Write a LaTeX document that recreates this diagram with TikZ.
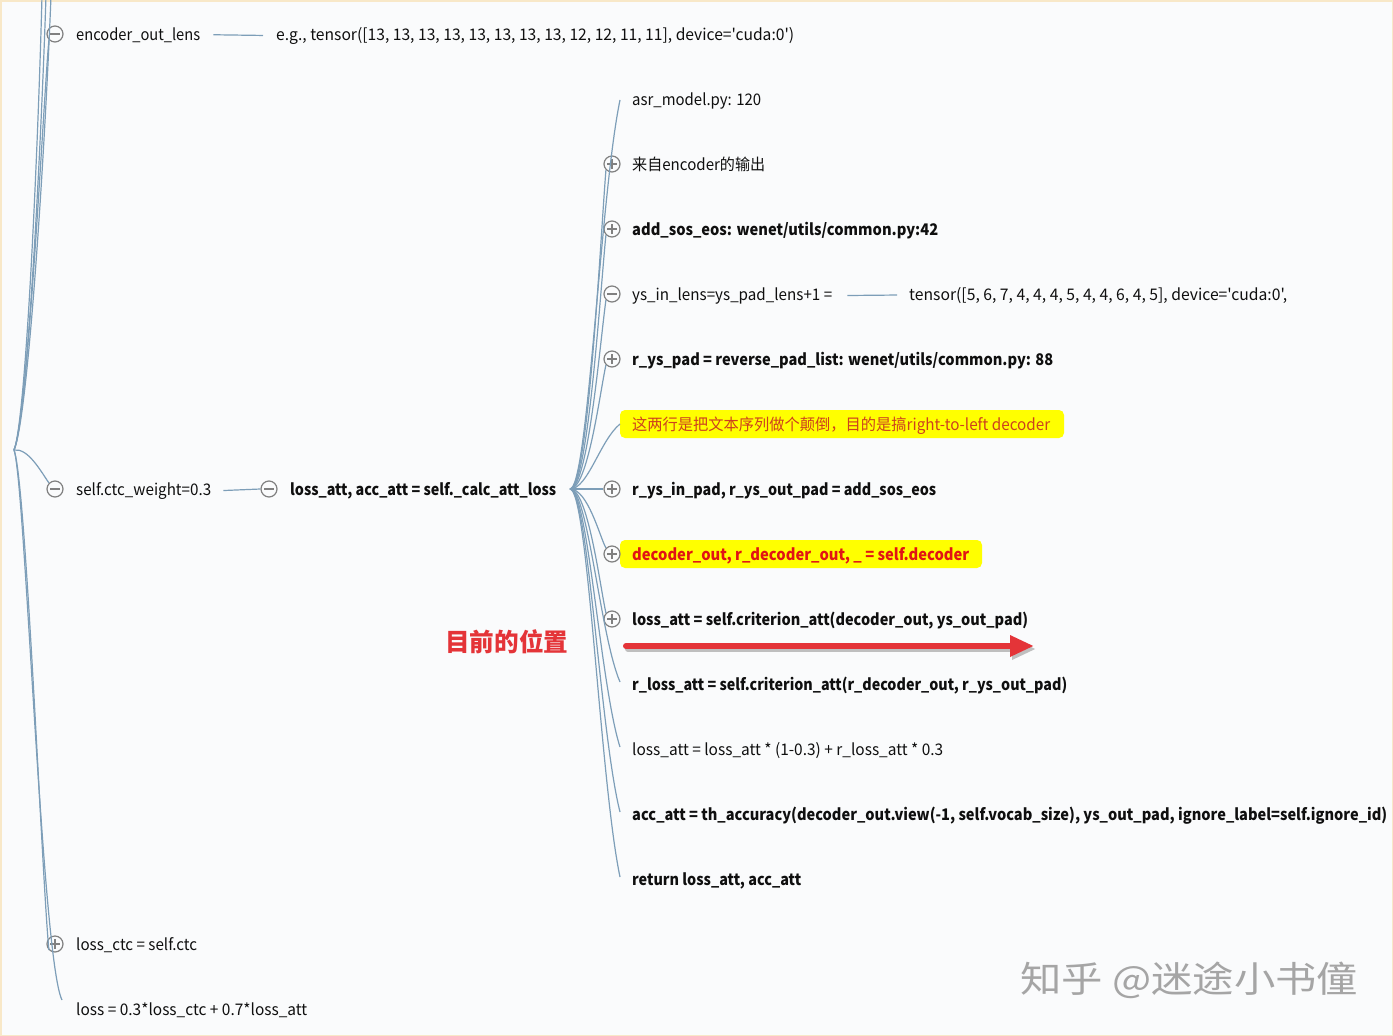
\documentclass[tikz,border=0pt]{standalone}
\usepackage{fontspec}
\setmainfont{Noto Sans CJK SC}[Ligatures=TeXOff]
\usepackage{graphicx}
\usetikzlibrary{arrows.meta}
\definecolor{bgc}{RGB}{250,251,252}
\definecolor{framec}{RGB}{248,232,200}
\definecolor{connc}{RGB}{125,158,184}
\definecolor{toggray}{RGB}{128,128,128}
\definecolor{txtc}{RGB}{15,15,15}
\definecolor{hly}{RGB}{255,255,0}
\definecolor{hltxt}{RGB}{205,65,30}
\definecolor{hlred}{RGB}{225,20,20}
\definecolor{annred}{RGB}{228,52,56}
\definecolor{wmc}{RGB}{165,165,165}
\newcommand{\fw}[2]{\resizebox{#1pt}{\height}{#2}}
\tikzset{
  conn/.style={draw=connc, line width=1.2pt},
  txt/.style={anchor=base west, inner sep=0pt, text=txtc, font=\fontsize{16}{19}\selectfont},
  btxt/.style={txt, font=\fontsize{16}{19}\selectfont\bfseries},
  tog/.style={circle, draw=toggray, line width=1.2pt, fill=bgc, minimum size=16pt, inner sep=0pt},
  minusbox/.style={tog, path picture={\draw[toggray, line width=1.1pt]
     ([xshift=-5pt]path picture bounding box.center) -- ([xshift=5pt]path picture bounding box.center);}},
  plusbox/.style={tog, path picture={\draw[toggray, line width=1.1pt]
     ([xshift=-5pt]path picture bounding box.center) -- ([xshift=5pt]path picture bounding box.center)
     ([yshift=-5pt]path picture bounding box.center) -- ([yshift=5pt]path picture bounding box.center);}},
  hlbox/.style={fill=hly, rounded corners=5pt},
}
\newcommand{\fan}[2]{\draw[conn] (hub) .. controls (588,489) and (600,{#2+(489-#2)*0.25}) .. (#1);}
\begin{document}
\begin{tikzpicture}[x=1pt,y=-1pt]
\useasboundingbox (0,0) rectangle (1393,1036);
\fill[bgc] (0,0) rectangle (1393,1036);
\draw[framec, line width=3pt] (0,0) rectangle (1393,1036);

% ---------- left root ----------
\coordinate (root) at (14,450);
\coordinate (t1) at (42,-4);
\coordinate (t2) at (46,-4);
\coordinate (t3) at (51,-4);
\node[minusbox] (cenc) at (55,34) {};
\node[txt] (enc) at (76,40) {\fw{124}{encoder\_out\_lens}};
\node[txt] (eg) at (276,40) {\fw{518}{e.g., tensor([13, 13, 13, 13, 13, 13, 13, 13, 12, 12, 11, 11], device='cuda:0')}};
\draw[conn] ([xshift=13pt]enc.east) -- ([xshift=-13pt]eg.west);

\node[minusbox] (csw) at (55,489) {};
\node[txt] (sw) at (76,495) {\fw{135}{self.ctc\_weight=0.3}};
\node[minusbox] (cla) at (269,489) {};
\node[btxt] (la) at (290,495) {\fw{266}{loss\_att, acc\_att = self.\_calc\_att\_loss}};
\draw[conn] ([xshift=12pt]sw.east) -- (cla.west);

\node[plusbox] (cctc) at (55,944) {};
\node[txt] (ctc) at (76,950) {\fw{121}{loss\_ctc = self.ctc}};
\node[txt] (loss) at (76,1015) {\fw{231}{loss = 0.3*loss\_ctc + 0.7*loss\_att}};
\coordinate (lossend) at (62,1000);

\draw[conn] (root) .. controls (26,420) and (38,150) .. (t1);
\draw[conn] (root) .. controls (27,420) and (41,150) .. (t2);
\draw[conn] (root) .. controls (28,420) and (45,150) .. (t3);
\draw[conn] (root) .. controls (28,420) and (44,90) .. (cenc.south west);
\draw[conn] (root) .. controls (28,448) and (40,470) .. (csw.north west);
\draw[conn] (root) .. controls (26,480) and (42,880) .. (cctc.south west);
\draw[conn] (root) .. controls (25,480) and (42,960) .. (lossend);

% ---------- fan from calc_att_loss ----------
\coordinate (hub) at (570,489);

\coordinate (e1) at (620,100);
\node[txt] (r1) at (632,105) {\fw{129}{asr\_model.py: 120}};

\node[plusbox] (c2) at (612,164) {};
\node[txt] (r2) at (632,170) {\fw{133}{来自encoder的输出}};

\node[plusbox] (c3) at (612,229) {};
\node[btxt] (r3) at (632,235) {\fw{306}{add\_sos\_eos: wenet/utils/common.py:42}};

\node[minusbox] (c4) at (612,294) {};
\node[txt] (r4) at (632,300) {\fw{200}{ys\_in\_lens=ys\_pad\_lens+1 =}};
\node[txt] (r4b) at (909,300) {\fw{378}{tensor([5, 6, 7, 4, 4, 4, 5, 4, 4, 6, 4, 5], device='cuda:0',}};
\draw[conn] ([xshift=15pt]r4.east) -- ([xshift=-12pt]r4b.west);

\node[plusbox] (c5) at (612,359) {};
\node[btxt] (r5) at (632,365) {\fw{421}{r\_ys\_pad = reverse\_pad\_list: wenet/utils/common.py: 88}};

\fill[hlbox] (620,410) rectangle (1064,438);
\coordinate (e6) at (620,424);
\node[txt, text=hltxt] (r6) at (632,430) {\fw{418}{这两行是把文本序列做个颠倒，目的是搞right-to-left decoder}};

\node[plusbox] (c7) at (612,489) {};
\node[btxt] (r7) at (632,495) {\fw{304}{r\_ys\_in\_pad, r\_ys\_out\_pad = add\_sos\_eos}};

\fill[hlbox] (620,540) rectangle (982,568);
\node[plusbox] (c8) at (612,554) {};
\node[btxt, text=hlred] (r8) at (632,560) {\fw{337}{decoder\_out, r\_decoder\_out, \_ = self.decoder}};

\node[plusbox] (c9) at (612,619) {};
\node[btxt] (r9) at (632,625) {\fw{396}{loss\_att = self.criterion\_att(decoder\_out, ys\_out\_pad)}};

\coordinate (e10) at (620,682);
\node[btxt] (r10) at (632,690) {\fw{435}{r\_loss\_att = self.criterion\_att(r\_decoder\_out, r\_ys\_out\_pad)}};

\coordinate (e11) at (620,747);
\node[txt] (r11) at (632,755) {\fw{311}{loss\_att = loss\_att * (1-0.3) + r\_loss\_att * 0.3}};

\coordinate (e12) at (620,812);
\node[btxt] (r12) at (632,820) {\fw{755}{acc\_att = th\_accuracy(decoder\_out.view(-1, self.vocab\_size), ys\_out\_pad, ignore\_label=self.ignore\_id)}};

\coordinate (e13) at (620,877);
\node[btxt] (r13) at (632,885) {\fw{169}{return loss\_att, acc\_att}};

\fan{e1}{99}
\fan{c2.south west}{164}
\fan{c3.south west}{229}
\fan{c4.south west}{294}
\fan{c5.south west}{359}
\fan{e6}{424}
\draw[conn] (hub) -- (c7.west);
\fan{c8.north west}{554}
\fan{c9.north west}{619}
\fan{e10}{684}
\fan{e11}{749}
\fan{e12}{814}
\fan{e13}{879}

% ---------- annotation ----------
\node[anchor=base west, inner sep=0pt, text=annred, font=\fontsize{25}{30}\selectfont\bfseries] (pos) at (445,651) {\fw{123}{目前的位置}};
\coordinate (arrS) at (626,646);
\coordinate (arrE) at (1034,646);
\draw[black!25, line width=6pt, line cap=round, -{Triangle[length=24pt,width=20pt]}] ([shift={(2,3)}]arrS) -- ([shift={(2,3)}]arrE);
\draw[annred, line width=6pt, line cap=round, -{Triangle[length=24pt,width=20pt]}] (arrS) -- (arrE);

% ---------- watermark ----------
\node[anchor=base west, inner sep=0pt, text=wmc, font=\fontsize{36}{40}\selectfont] (wm) at (1020,992) {\fw{338}{知乎 @迷途小书僮}};
\end{tikzpicture}
\end{document}
